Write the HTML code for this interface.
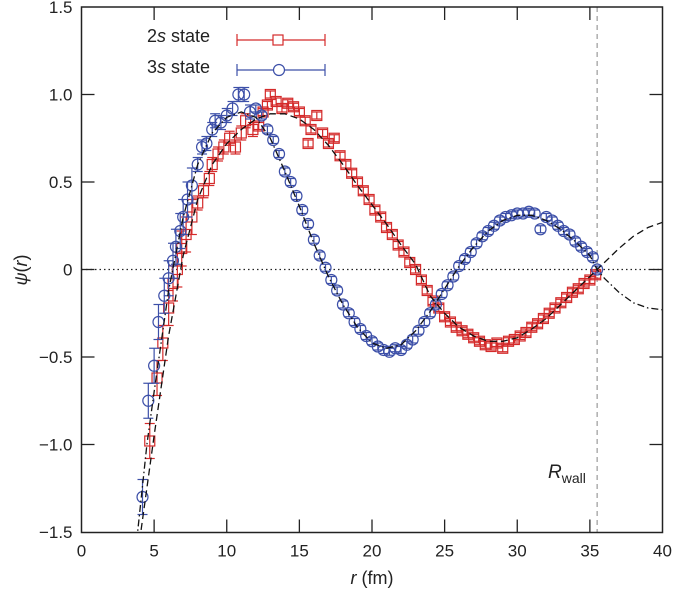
<!DOCTYPE html>
<html><head><meta charset="utf-8"><style>
body{margin:0;background:#fff}
svg{display:block;font-family:"Liberation Sans",Arial,sans-serif}
</style></head><body>
<svg id="c" width="675" height="594"></svg>
<script>
const xTicks=[0,5,10,15,20,25,30,35,40];
const yTicks=[-1.5,-1.0,-0.5,0,0.5,1.0,1.5];
const yTickLabels=["−1.5","−1.0","−0.5","0","0.5","1.0","1.5"];
const fitR=[4,5,6,7,8,9,10,11,12,13,14,15,16,17,18,19,20,21,22,23,24,25,26,27,28,29,30,31,32,33,34,35,35.5,36,37,38,39,40];
const fit2s=[-1.55,-0.95,-0.38,0.08,0.4,0.6,0.72,0.8,0.86,0.89,0.89,0.86,0.8,0.71,0.6,0.48,0.37,0.26,0.14,0.03,-0.15,-0.25,-0.33,-0.38,-0.41,-0.41,-0.39,-0.34,-0.28,-0.2,-0.12,-0.04,0,0.04,0.12,0.19,0.24,0.27];
const fit3sR=[3.8,4.5,5,6,7,8,9,10,11,12,13,14,15,16,17,18,19,20,21,22,23,24,25,26,27,28,29,30,31,32,33,34,35,35.5,36,37,38,39,40];
const fit3s=[-1.55,-1.0,-0.7,-0.12,0.3,0.6,0.78,0.87,0.9,0.87,0.75,0.56,0.36,0.15,-0.04,-0.2,-0.33,-0.42,-0.45,-0.43,-0.35,-0.24,-0.11,0.02,0.13,0.22,0.28,0.31,0.31,0.28,0.23,0.16,0.08,0,-0.05,-0.13,-0.19,-0.22,-0.23];
const r2s=[4.7,5.2,5.6,6.0,6.3,6.6,6.9,7.2,7.6,8.0,8.4,8.8,9.0,9.4,9.8,10.2,10.6,11.0,11.3,11.8,12.2,12.5,12.8,13.0,13.4,13.8,14.2,14.6,15.0,15.4,15.6,15.8,16.2,16.6,17.0,17.4,17.8,18.2,18.6,19.0,19.4,19.8,20.2,20.6,21.0,21.4,21.8,22.2,22.6,23.0,23.4,23.8,24.2,24.6,25.0,25.4,25.8,26.2,26.6,27.0,27.4,27.8,28.2,28.6,29.0,29.4,29.8,30.2,30.6,31.0,31.4,31.8,32.2,32.6,33.0,33.4,33.8,34.2,34.6,35.0,35.4];
const v2s=[-0.98,-0.62,-0.42,-0.22,-0.08,0.0,0.12,0.2,0.3,0.38,0.45,0.52,0.6,0.66,0.7,0.75,0.7,0.78,0.85,0.8,0.82,0.9,0.94,1.0,0.96,0.92,0.95,0.93,0.9,0.85,0.72,0.8,0.88,0.78,0.72,0.75,0.65,0.6,0.55,0.5,0.45,0.4,0.34,0.3,0.24,0.2,0.14,0.1,0.04,0.0,-0.06,-0.12,-0.18,-0.22,-0.27,-0.3,-0.33,-0.35,-0.37,-0.39,-0.41,-0.43,-0.44,-0.42,-0.45,-0.41,-0.4,-0.38,-0.36,-0.33,-0.31,-0.28,-0.25,-0.22,-0.19,-0.16,-0.13,-0.11,-0.08,-0.06,-0.03];
const r3s=[4.2,4.6,5.0,5.3,5.7,6.0,6.3,6.5,6.8,7.0,7.3,7.6,8.0,8.3,8.6,9.0,9.2,9.6,10.0,10.4,10.8,11.2,11.6,12.0,12.4,12.8,13.2,13.6,14.0,14.4,14.8,15.2,15.6,16.0,16.4,16.8,17.2,17.6,18.0,18.4,18.8,19.2,19.6,20.0,20.4,20.8,21.2,21.6,22.0,22.4,22.8,23.2,23.6,24.0,24.4,24.8,25.2,25.6,26.0,26.4,26.8,27.2,27.6,28.0,28.4,28.8,29.2,29.6,30.0,30.4,30.8,31.2,31.6,32.0,32.4,32.8,33.2,33.6,34.0,34.4,34.8,35.2,35.5];
const v3s=[-1.3,-0.75,-0.55,-0.3,-0.15,-0.05,0.05,0.13,0.22,0.3,0.4,0.48,0.6,0.7,0.72,0.8,0.85,0.84,0.88,0.92,1.0,1.0,0.9,0.92,0.88,0.8,0.74,0.66,0.56,0.5,0.42,0.34,0.26,0.17,0.08,0.01,-0.06,-0.12,-0.2,-0.25,-0.3,-0.34,-0.38,-0.41,-0.44,-0.46,-0.47,-0.45,-0.46,-0.43,-0.4,-0.35,-0.3,-0.25,-0.2,-0.14,-0.09,-0.04,0.02,0.06,0.1,0.15,0.19,0.22,0.25,0.28,0.3,0.31,0.32,0.32,0.33,0.32,0.23,0.3,0.28,0.25,0.22,0.2,0.16,0.13,0.1,0.07,0.0];

const NS="http://www.w3.org/2000/svg";
const svg=document.getElementById('c');
const L=81.5,R=662.5,T=7,B=532.5;
const X=v=>L+(v-0)/40*(R-L);
const Y=v=>269.5-v*175;
function mk(t,a,p){const e=document.createElementNS(NS,t);for(const k in a)e.setAttribute(k,a[k]);(p||svg).appendChild(e);return e;}
const clip=mk('clipPath',{id:'pc'});mk('rect',{x:L,y:T,width:R-L,height:B-T},clip);

let z=mk('line',{x1:L,x2:R,y1:Y(0),y2:Y(0),stroke:'#222','stroke-width':1.3,'stroke-dasharray':'1.5 3'});


let w=mk('line',{x1:X(35.5),x2:X(35.5),y1:T,y2:B,stroke:'#999','stroke-width':1.2,'stroke-dasharray':'5 4'});



function dataSeries(rs,vs,col,shape,name){
  const g=mk('g',{'clip-path':'url(#pc)',stroke:col,fill:'none','stroke-width':1.2});
  
  
  rs.forEach((r,i)=>{
    const x=X(r),y=Y(vs[i]);const e=r<8?0.1:(r<12?0.04:0.02);
    const y1=Y(vs[i]+e),y2=Y(vs[i]-e);
    mk('line',{x1:x,x2:x,y1:y1,y2:y2},g);
    mk('line',{x1:x-5,x2:x+5,y1:y1,y2:y1},g);
    mk('line',{x1:x-5,x2:x+5,y1:y2,y2:y2},g);
    let m;
    if(shape==='sq') m=mk('rect',{x:x-5,y:y-5,width:10,height:10},g);
    else m=mk('circle',{cx:x,cy:y,r:5.5},g);
    
    
  });
}
dataSeries(r2s,v2s,'#d42a2a','sq','series-2s');
dataSeries(r3s,v3s,'#3c4fa8','ci','series-3s');

function fitLine(rs,vs,dash,name){
  const d=rs.map((r,i)=>(i?'L':'M')+X(r).toFixed(1)+' '+Y(vs[i]).toFixed(1)).join(' ');
  const p=mk('path',{d:d,fill:'none',stroke:'#111','stroke-width':1.3,'stroke-dasharray':dash,'clip-path':'url(#pc)'});
  
  
}
fitLine(fitR,fit2s,'7 4','fit-2s-curve');
fitLine(fit3sR,fit3s,'7 3 1.5 3','fit-3s-curve');

let f=mk('rect',{x:L,y:T,width:R-L,height:B-T,fill:'none',stroke:'#222','stroke-width':1.5});


xTicks.forEach(t=>{
  const x=X(t);
  if(t>0&&t<40){mk('line',{x1:x,x2:x,y1:B,y2:B-13,stroke:'#222','stroke-width':1.3});mk('line',{x1:x,x2:x,y1:T,y2:T+13,stroke:'#222','stroke-width':1.3});}
  const tx=mk('text',{x:x,y:B+24,'font-size':17,'text-anchor':'middle',fill:'#222'});tx.textContent=t;
  
  
});
yTicks.forEach((t,i)=>{
  const y=Y(t);
  if(i>0&&i<yTicks.length-1){mk('line',{x1:L,x2:L+13,y1:y,y2:y,stroke:'#222','stroke-width':1.3});mk('line',{x1:R,x2:R-13,y1:y,y2:y,stroke:'#222','stroke-width':1.3});}
  const tx=mk('text',{x:L-9,y:y+6,'font-size':17,'text-anchor':'end',fill:'#222'});tx.textContent=yTickLabels[i];
  
  
});
</script>
<script>
(function(){
const svg=document.getElementById('c');
svg.insertAdjacentHTML('beforeend',
'<text x="372" y="584" font-size="18" text-anchor="middle" fill="#222"><tspan font-style="italic">r</tspan> (fm)</text>'+
'<text transform="translate(27,270) rotate(-90)" font-size="18" text-anchor="middle" fill="#222"><tspan font-style="italic">ψ</tspan>(<tspan font-style="italic">r</tspan>)</text>'+
'<text x="548" y="478" font-size="19" fill="#222"><tspan font-style="italic">R</tspan><tspan font-size="14" dy="5">wall</tspan></text>'+
'<g>'+
'<text x="147" y="42" font-size="18" fill="#222">2<tspan font-style="italic">s</tspan> state</text>'+
'<g stroke="#d42a2a" fill="none" stroke-width="1.2"><line x1="237" x2="325" y1="40" y2="40"/><line x1="237" x2="237" y1="34" y2="46"/><line x1="325" x2="325" y1="34" y2="46"/><rect x="273" y="35" width="10" height="10" fill="#fff"/></g>'+
'<text x="147" y="73" font-size="18" fill="#222">3<tspan font-style="italic">s</tspan> state</text>'+
'<g stroke="#3c4fa8" fill="none" stroke-width="1.2"><line x1="237" x2="325" y1="70" y2="70"/><line x1="237" x2="237" y1="64" y2="76"/><line x1="325" x2="325" y1="64" y2="76"/><circle cx="279" cy="70" r="5.5" fill="#fff"/></g>'+
'</g>');
})();
</script>
</body></html>
